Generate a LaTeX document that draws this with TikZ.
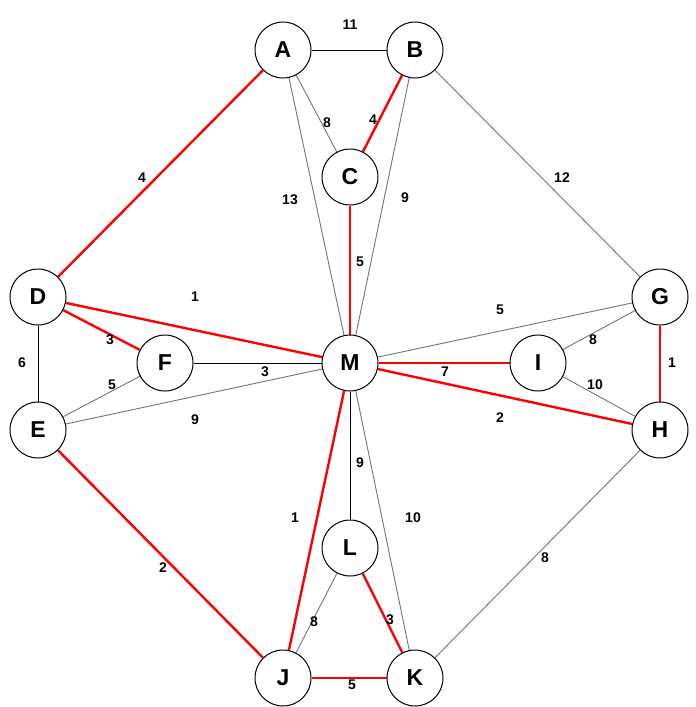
\documentclass[tikz,border=0pt]{standalone}
\usepackage{fontspec}
\setmainfont{Liberation Sans}
\usetikzlibrary{positioning,backgrounds}
\begin{document}
\begin{tikzpicture}[x=1pt,y=-1pt,
  vtx/.style={circle,draw,line width=1pt,fill=white,minimum size=56pt,inner sep=0pt,font=\bfseries\fontsize{23}{23}\selectfont},
  lbl/.style={font=\bfseries\fontsize{14}{14}\selectfont},
  plain/.style={draw=gray!90!black,line width=0.9pt},
  tree/.style={draw=red,line width=2.4pt}]
\useasboundingbox (0,0) rectangle (696,707);
% vertices
\node[vtx] (A) at (283,50) {A};
\node[vtx] (B) at (415,50) {B};
\node[vtx] (C) at (350,177) {C};
\node[vtx] (D) at (38,297) {D};
\node[vtx] (E) at (38,430) {E};
\node[vtx] (F) at (165,363) {F};
\node[vtx] (M) at (350,363) {M};
\node[vtx] (I) at (538,363) {I};
\node[vtx] (G) at (660,297) {G};
\node[vtx] (H) at (660,430) {H};
\node[vtx] (L) at (350,548) {L};
\node[vtx] (J) at (283,678) {J};
\node[vtx] (K) at (415,678) {K};
% edges
\begin{scope}[on background layer]
\draw[plain,draw=black] (A) -- (B);
\draw[plain] (A) -- (C);
\draw[tree] (B) -- (C);
\draw[plain] (A) -- (M);
\draw[plain] (B) -- (M);
\draw[tree] (C) -- (M);
\draw[plain] (B) -- (G);
\draw[tree] (A) -- (D);
\draw[tree] (D) -- (M);
\draw[tree] (D) -- (F);
\draw[plain,draw=black] (D) -- (E);
\draw[plain,draw=black] (F) -- (M);
\draw[plain] (E) -- (F);
\draw[plain] (E) -- (M);
\draw[plain] (M) -- (G);
\draw[tree] (M) -- (I);
\draw[plain] (G) -- (I);
\draw[plain] (I) -- (H);
\draw[tree] (G) -- (H);
\draw[tree] (M) -- (H);
\draw[plain,draw=black] (M) -- (L);
\draw[plain] (M) -- (K);
\draw[tree] (M) -- (J);
\draw[plain] (L) -- (J);
\draw[tree] (L) -- (K);
\draw[tree] (J) -- (K);
\draw[tree] (E) -- (J);
\draw[plain] (H) -- (K);
\end{scope}
% weights
\foreach \w/\x/\y in {11/350/25,8/327/123,4/373/120,13/290/200,9/405/198,5/360/262,12/562/178,
  4/142/178,1/195/297,3/110/340,6/22/363,5/112/385,3/265/372,9/195/420,5/500/310,7/445/372,
  8/593/340,10/595/385,1/672/363,2/500/418,9/360/463,10/413/518,1/295/518,2/163/568,
  8/545/558,8/314/622,3/390/620,5/352/685}
  \node[lbl] at (\x,\y) {\w};
\end{tikzpicture}
\end{document}
